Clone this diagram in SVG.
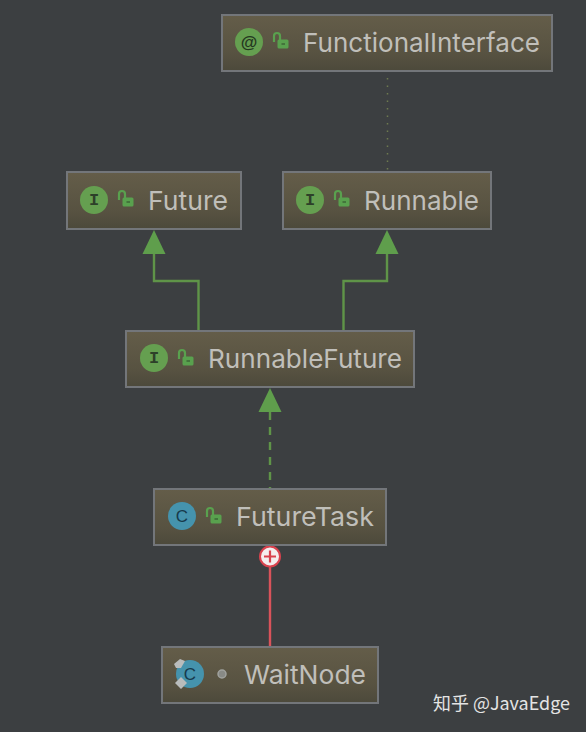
<svg xmlns="http://www.w3.org/2000/svg" width="586" height="732" viewBox="0 0 586 732">
<style>
.box{fill:url(#nodeFill);stroke:#73767a;stroke-width:2}
.label{font-family:Inter,"Liberation Sans",sans-serif;font-size:26px;fill:#c0bfba}
.badge{font-family:"Liberation Mono",monospace;font-size:17px;font-weight:bold;fill:#2d4029;text-anchor:middle}
.badgec{font-family:"Liberation Sans",sans-serif;font-size:17px;fill:#173a4c;text-anchor:middle}
.edge{fill:none;stroke:#5f9448;stroke-width:2.4}
.head{fill:#5f9e4c}
.lockb{fill:#59a14e}
.locks{fill:none;stroke:#59a14e;stroke-width:2.2}
.g{fill:#659f50}
.c{fill:#4593ad}
</style>
<defs>
<linearGradient id="nodeFill" x1="0" y1="0" x2="0" y2="1">
<stop offset="0" stop-color="#645d49"/><stop offset="0.7" stop-color="#575241"/><stop offset="1" stop-color="#4c493b"/>
</linearGradient>
<g id="lock"><path class="locks" d="M-7 1v-6a3 3 0 0 1 6 0v4"/><rect class="lockb" x="-3.500" y="-1.500" width="11" height="9" rx="1.500"/><rect x="0.500" y="2.200" width="3.500" height="1.600" fill="#3f6a38"/></g>
</defs>
<rect width="586" height="732" fill="#3c3f41"/>
<g id="connectors">
<path d="M387.500 78V170" fill="none" stroke="#6d7a50" stroke-width="1.500" stroke-dasharray="1.500 6"/>
<path class="edge" d="M154 253V281H198.500V330"/>
<polygon class="head" points="154,230 142.500,254 165.500,254"/>
<path class="edge" d="M387 253V281H343.500V330"/>
<polygon class="head" points="387,230 375.500,254 398.500,254"/>
<path class="edge" d="M270 412V488" stroke-dasharray="8 7"/>
<polygon class="head" points="270,388 258.500,412 281.500,412"/>
<path d="M270 566V646" fill="none" stroke="#d9535a" stroke-width="2.400"/>
<circle cx="270" cy="556.500" r="10" fill="#f4eeee" stroke="#d9434e" stroke-width="2"/>
<path d="M264 556.500H276M270 550.500V562.500" stroke="#d9434e" stroke-width="2.200" fill="none"/>
</g>
<g id="node-functionalinterface">
<rect class="box" x="222" y="15" width="330" height="56"/>
<circle class="g" cx="249" cy="42" r="14"/>
<text class="badgec" x="249" y="48" style="fill:#24381f;font-weight:bold">@</text>
<use href="#lock" x="281" y="41"/>
<text class="label" x="303" y="52" textLength="237" lengthAdjust="spacingAndGlyphs">FunctionalInterface</text>
</g>
<g id="node-future">
<rect class="box" x="67" y="172" width="174" height="57"/>
<circle class="g" cx="94" cy="200" r="14"/>
<text class="badge" x="94" y="205">I</text>
<use href="#lock" x="126" y="199"/>
<text class="label" x="148" y="210" textLength="80" lengthAdjust="spacingAndGlyphs">Future</text>
</g>
<g id="node-runnable">
<rect class="box" x="283" y="172" width="208" height="57"/>
<circle class="g" cx="310" cy="200" r="14"/>
<text class="badge" x="310" y="205">I</text>
<use href="#lock" x="342" y="199"/>
<text class="label" x="364" y="210" textLength="115" lengthAdjust="spacingAndGlyphs">Runnable</text>
</g>
<g id="node-runnablefuture">
<rect class="box" x="126" y="331" width="288" height="56"/>
<circle class="g" cx="154" cy="358" r="14"/>
<text class="badge" x="154" y="363">I</text>
<use href="#lock" x="186" y="358"/>
<text class="label" x="208" y="368" textLength="194" lengthAdjust="spacingAndGlyphs">RunnableFuture</text>
</g>
<g id="node-futuretask">
<rect class="box" x="154" y="489" width="232" height="56"/>
<circle class="c" cx="182" cy="516" r="14"/>
<text class="badgec" x="182" y="522">C</text>
<use href="#lock" x="214" y="516"/>
<text class="label" x="236" y="526" textLength="138" lengthAdjust="spacingAndGlyphs">FutureTask</text>
</g>
<g id="node-waitnode">
<rect class="box" x="162" y="647" width="216" height="56"/>
<circle class="c" cx="190" cy="674" r="14"/>
<text class="badgec" x="190" y="680">C</text>
<path d="M174 664L180 659L185 661L181 668L176 668Z" fill="#b9bcbc"/>
<path d="M181 677L187 683L181 689L175 683Z" fill="#b9bcbc"/>
<circle cx="222" cy="674" r="4" fill="#888a86" stroke="#a0a29e" stroke-width="1.500"/>
<text class="label" x="244" y="684" textLength="122" lengthAdjust="spacingAndGlyphs">WaitNode</text>
</g>
<text x="433" y="710" font-family="'Noto Sans CJK SC','Noto Sans',sans-serif" font-size="18" fill="#e4e4e4" textLength="137" lengthAdjust="spacingAndGlyphs">知乎 @JavaEdge</text>
</svg>
